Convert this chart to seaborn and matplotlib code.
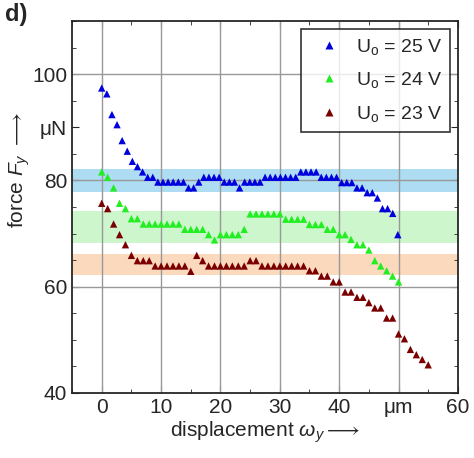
import numpy as np
import pandas as pd
import matplotlib
matplotlib.use("Agg")
import matplotlib.pyplot as plt
import seaborn as sns
from matplotlib.ticker import MultipleLocator

sns.set_style("ticks")
plt.rcParams['font.family'] = ['Liberation Sans', 'DejaVu Sans']
plt.rcParams['mathtext.fontset'] = 'custom'
plt.rcParams['mathtext.it'] = 'Liberation Sans:italic'
plt.rcParams['mathtext.rm'] = 'Liberation Sans'

blue_step = 0.86
blue_y = [97.4, 96.3, 92.4, 90.5, 87.5, 85.5, 83.6, 82.6, 81.6, 80.6, 80.6,
          79.7, 79.7, 79.7, 79.7, 79.7, 79.7, 78.6, 78.6, 79.7, 80.6, 80.6, 80.6, 80.6,
          79.7, 79.7, 79.7, 78.6, 79.7, 79.7, 79.7, 79.7,
          80.6, 80.6, 80.6, 80.6, 80.6, 80.6, 80.6, 81.6, 81.6, 81.6, 81.6,
          80.6, 80.6, 80.6, 80.6, 79.6, 79.6, 79.6, 78.6, 78.6, 77.7, 77.7, 76.7,
          74.7, 74.7, 73.8, 69.8]
green_y = [81.6, 80.6, 78.6, 75.7, 74.7, 72.8, 72.8] + [71.8] * 7 + [70.8] * 4 + \
          [69.8, 68.8] + [69.8] * 4 + [70.8] + [73.7] * 6 + [72.7] * 4 + [71.7] * 3 + \
          [70.8] * 2 + [69.8] * 2 + [68.9] + [67.9] * 2 + [66.9, 64.9, 63.9, 63.0, 62.0, 60.9]
red_y = [75.7, 74.7, 71.8, 69.8, 67.9, 65.9] + [64.9] * 3 + [63.9] * 6 + [62.9, 65.9, 64.9] + \
        [63.9] * 7 + [64.9] * 2 + [63.9] * 8 + [63.0] * 2 + [62.0] * 2 + [60.9] * 2 + \
        [59.0] * 2 + [58.0] * 2 + [57.0] + [56.0] * 2 + [54.1] * 2 + \
        [51.1, 50.2, 48.2, 47.2, 46.3, 45.3]
labels = ["U$_\\mathrm{o}$ = 25 V", "U$_\\mathrm{o}$ = 24 V", "U$_\\mathrm{o}$ = 23 V"]
colors = ["#0000dd", "#22ee22", "#7a0000"]
bands = [(77.9, 82.1, "#aedcf2"), (68.2, 74.2, "#cdf6cd"), (62.2, 66.1, "#fbd9bd")]
xticks = [0, 10, 20, 30, 40, 50, 60]
xticklabels = ["0", "10", "20", "30", "40", "μm", "60"]
yticks = [40, 60, 80, 90, 100]
yticklabels = ["40", "60", "80", "μN", "100"]

df = pd.concat([
    pd.DataFrame({"x": np.arange(len(blue_y)) * blue_step, "y": blue_y, "s": labels[0]}),
    pd.DataFrame({"x": np.arange(len(green_y)) * 1.0, "y": green_y, "s": labels[1]}),
    pd.DataFrame({"x": np.arange(len(red_y)) * 1.0, "y": red_y, "s": labels[2]}),
])

fig = plt.figure(figsize=(4.74, 4.58), dpi=100)
ax = fig.add_axes([0.152, 0.142, 0.814, 0.812])
for lo, hi, c in bands:
    ax.axhspan(lo, hi, xmin=0, xmax=1, color=c, zorder=0, lw=0)
for v in [0, 10, 20, 30, 40, 50]:
    ax.axvline(v, color="#999999", lw=1, zorder=1)
for v in [60, 80, 100]:
    ax.axhline(v, color="#999999", lw=1, zorder=1)
sns.scatterplot(data=df, x="x", y="y", hue="s", palette=colors, marker="^",
                s=28, edgecolor="none", ax=ax, zorder=3)
ax.set_xlim(-5, 60)
ax.set_ylim(40, 110)
ax.set_xticks(xticks, xticklabels, fontsize=15)
ax.set_yticks(yticks, yticklabels, fontsize=15)
ax.xaxis.set_minor_locator(MultipleLocator(5))
ax.yaxis.set_minor_locator(MultipleLocator(5))
ax.tick_params(direction="in", which="both", top=True, right=True)
ax.tick_params(which="major", length=5)
ax.tick_params(which="minor", length=3)
for sp in ax.spines.values():
    sp.set_linewidth(1.3)
ax.set_xlabel("displacement $\\omega_y$$\\longrightarrow$", fontsize=15, labelpad=2)
ax.set_ylabel("force $F_y$ $\\longrightarrow$", fontsize=15)
ax.yaxis.set_label_coords(-0.105, 0.6)
leg = ax.legend(loc="upper right", fontsize=14, frameon=True, fancybox=False,
                edgecolor="black", handletextpad=0.4, markerscale=1.1,
                borderaxespad=0.4, labelspacing=0.7)
leg.get_frame().set_linewidth(1.2)
fig.text(0.01, 0.955, "d)", fontsize=17, fontweight="bold")
fig.savefig("out.png", dpi=100)
